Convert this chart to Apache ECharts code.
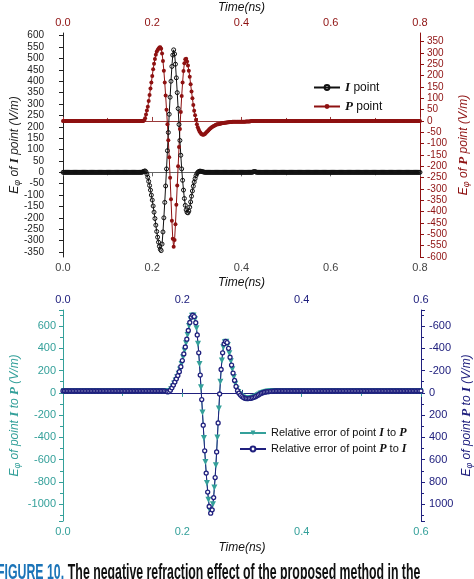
<!DOCTYPE html>
<html>
<head>
<meta charset="utf-8">
<script src="https://cdn.jsdelivr.net/npm/echarts@6/dist/echarts.min.js"></script>
<style>
html,body{margin:0;padding:0;background:#fff;}
#main{width:474px;height:579px;}
</style>
</head>
<body>
<div id="main"></div>
<script>
// sampling steps (ns)
var dtTop = 0.002;
var dtBottom = 0.0025;

var topTimeRange = [0, 0.8];
var bottomTimeRange = [0, 0.6];

// E-phi at I point (V/m), one row = 0.04 ns
var iPoint = [
  0,0,0,0,0,0,0,0,0,0,0,0,0,0,0,0,0,0,0,0,
  0,0,0,0,0,0,0,0,0,0,0,0,0,0,0,0,0,0,0,0,
  0,0,0,0,0,0,0,0,0,0,0,0,0,0,0,0,0,0,0,0,
  0,0,0,0,0,0,0,0,0,0,0,0,0,0,0,0,0,0,0,0,
  0,0,0,0,0,0,0,0,0,1,3,5,6,2,-8,-22,-40,-58,-78,-100,
  -122,-148,-175,-203,-232,-260,-285,-307,-325,-338,-344,-315,-262,-200,-132,-60,15,95,175,255,
  330,400,465,515,538,520,475,415,350,280,210,140,75,15,-35,-78,-115,-145,-165,-176,
  -178,-170,-153,-130,-105,-82,-61,-43,-28,-15,-6,0,3,5,5,4,3,2,1,0,
  0,0,0,0,0,0,0,0,0,0,0,0,0,0,0,0,0,0,0,0,
  0,0,0,0,0,0,0,0,0,0,0,0,0,0,0,0,0,0,0,0,
  0,0,0,0,0,0,0,0,0,0,0,0,0,2,3,3,2,0,0,0,
  0,0,0,0,0,0,0,0,0,0,0,0,0,0,0,0,0,0,0,0,
  0,0,0,0,0,0,0,0,0,0,0,0,0,0,0,0,0,0,0,0,
  0,0,0,0,0,0,0,0,0,0,0,0,0,0,0,0,0,0,0,0,
  0,0,0,0,0,0,0,0,0,0,0,0,0,0,0,0,0,0,0,0,
  0,0,0,0,0,0,0,0,0,0,0,0,0,0,0,0,0,0,0,0,
  0,0,0,0,0,0,0,0,0,0,0,0,0,0,0,0,0,0,0,0,
  0,0,0,0,0,0,0,0,0,0,0,0,0,0,0,0,0,0,0,0,
  0,0,0,0,0,0,0,0,0,0,0,0,0,0,0,0,0,0,0,0,
  0,0,0,0,0,0,0,0,0,0,0,0,0,0,0,0,0,0,0,0,
  0
];

// E-phi at P point (V/m, right axis), one row = 0.04 ns
var pPoint = [
  0,0,0,0,0,0,0,0,0,0,0,0,0,0,0,0,0,0,0,0,
  0,0,0,0,0,0,0,0,0,0,0,0,0,0,0,0,0,0,0,0,
  0,0,0,0,0,0,0,0,0,0,0,0,0,0,0,0,0,0,0,0,
  0,0,0,0,0,0,0,0,0,0,0,0,0,0,0,0,0,0,0,0,
  0,0,0,0,0,0,0,0,0,0,0,3,12,28,46,63,88,115,143,170,
  198,228,252,273,292,305,313,319,324,325,318,298,265,222,170,112,50,-15,-85,-160,
  -250,-345,-440,-520,-555,-525,-455,-370,-285,-200,-115,-35,40,110,170,220,255,272,274,262,
  245,222,195,162,130,100,70,45,25,5,-15,-28,-38,-46,-52,-57,-60,-61,-60,-57,
  -53,-49,-45,-41,-37,-33,-30,-27,-24,-22,-20,-18,-16,-15,-14,-13,-12,-11,-10,-9,
  -9,-8,-8,-7,-7,-6,-6,-5,-5,-5,-4,-4,-4,-4,-3,-3,-3,-3,-3,-3,
  -3,-3,-3,-3,-3,-2,-2,-2,-2,-2,-1,0,0,0,0,0,0,0,0,0,
  0,0,0,0,0,0,0,0,0,0,0,0,0,0,0,0,0,0,0,0,
  0,0,0,0,0,0,0,0,0,0,0,0,0,0,0,0,0,0,0,0,
  0,0,0,0,0,0,0,0,0,0,0,0,0,0,0,0,0,0,0,0,
  0,0,0,0,0,0,0,0,0,0,0,0,0,0,0,0,0,0,0,0,
  0,0,0,0,0,0,0,0,0,0,0,0,0,0,0,0,0,0,0,0,
  0,0,0,0,0,0,0,0,0,0,0,0,0,0,0,0,0,0,0,0,
  0,0,0,0,0,0,0,0,0,0,0,0,0,0,0,0,0,0,0,0,
  0,0,0,0,0,0,0,0,0,0,0,0,0,0,0,0,0,0,0,0,
  0,0,0,0,0,0,0,0,0,0,0,0,0,0,0,0,0,0,0,0,
  0
];

// relative error I -> P (teal), samples start at dtBottom/2, one row = 0.04 ns
var errIP = [
  18,18,18,18,18,18,18,18,18,18,18,18,18,18,18,18,
  18,18,18,18,18,18,18,18,18,18,18,18,18,18,18,18,
  18,18,18,18,18,18,18,18,18,18,18,18,18,18,18,18,
  18,18,18,18,18,18,18,18,18,18,18,18,18,18,18,18,
  18,18,18,18,17,12,10,16,32,57,85,112,140,172,210,260,
  320,380,445,520,600,660,692,695,660,580,440,260,50,-175,-405,-620,
  -810,-960,-1055,-1070,-1000,-850,-650,-400,-140,100,290,410,455,460,430,355,
  285,212,142,82,36,8,-13,-28,-39,-46,-50,-51,-50,-49,-46,-42,
  -37,-30,-22,-14,-6,0,4,8,10,12,13,14,15,16,17,17,
  18,18,18,18,18,18,18,18,18,18,18,18,18,18,18,18,
  18,18,18,18,18,18,18,18,18,18,18,18,18,18,18,18,
  18,18,18,18,18,18,18,18,18,18,18,18,18,18,18,18,
  18,18,18,18,18,18,18,18,18,18,18,18,18,18,18,18,
  18,18,18,18,18,18,18,18,18,18,18,18,18,18,18,18,
  18,18,18,18,18,18,18,18,18,18,18,18,18,18,18,18
];

// relative error P -> I (navy), samples start at 0, one row = 0.04 ns
var errPI = [
  18,18,18,18,18,18,18,18,18,18,18,18,18,18,18,18,
  18,18,18,18,18,18,18,18,18,18,18,18,18,18,18,18,
  18,18,18,18,18,18,18,18,18,18,18,18,18,18,18,18,
  18,18,18,18,18,18,18,18,18,18,18,18,18,18,18,18,
  18,18,18,18,18,14,10,12,24,45,70,98,126,155,190,235,
  290,350,412,482,560,632,680,697,685,630,520,360,160,-60,-290,-520,
  -720,-890,-1020,-1080,-1050,-940,-760,-530,-270,-10,210,360,440,462,452,400,
  320,250,178,112,58,20,-3,-20,-33,-42,-48,-51,-51,-50,-48,-44,
  -40,-34,-26,-18,-10,-3,2,6,9,11,12,14,15,16,17,17,
  18,18,18,18,18,18,18,18,18,18,18,18,18,18,18,18,
  18,18,18,18,18,18,18,18,18,18,18,18,18,18,18,18,
  18,18,18,18,18,18,18,18,18,18,18,18,18,18,18,18,
  18,18,18,18,18,18,18,18,18,18,18,18,18,18,18,18,
  18,18,18,18,18,18,18,18,18,18,18,18,18,18,18,18,
  18,18,18,18,18,18,18,18,18,18,18,18,18,18,18,18,
  18
];

var RED = '#8e1111', RED_AX = '#9a3a3a', TEAL = '#34a09a', NAVY = '#20207e';

function toPairs(vals, t0, dt) {
  return vals.map(function (v, i) { return [+(t0 + i * dt).toFixed(5), v]; });
}

function nameRich(color) {
  return {
    i: {fontStyle: 'italic', fontSize: 12, color: color, fontFamily: 'Liberation Sans'},
    s: {fontStyle: 'italic', fontSize: 9, color: color, fontFamily: 'Liberation Sans', padding: [5, 0, 0, 0]},
    b: {fontStyle: 'italic', fontWeight: 'bold', fontSize: 13, color: color, fontFamily: 'Liberation Serif'}
  };
}
var legendRich = {
  b: {fontStyle: 'italic', fontWeight: 'bold', fontSize: 13, fontFamily: 'Liberation Serif', color: '#111'}
};
var legendText = {
  'I point': '{b|I} point',
  'P point': '{b|P} point',
  'Relative error of point I to P': 'Relative error of point {b|I} to {b|P}',
  'Relative error of point P to I': 'Relative error of point {b|P} to {b|I}'
};
function fmt1(v) { return v.toFixed(1); }
function plain(v) { return String(v); }

function xAx(grid, pos, range, color, labelColor, name, nameGap) {
  return {
    type: 'value', gridIndex: grid, position: pos, min: range[0], max: range[1], interval: 0.2,
    axisLine: {show: true, lineStyle: {color: color, width: 1}},
    axisTick: {show: true, length: 4, lineStyle: {color: color}},
    minorTick: {show: true, splitNumber: 2, length: 3, lineStyle: {color: color}},
    axisLabel: {formatter: fmt1, fontSize: 11, color: labelColor, margin: 5, fontFamily: 'Liberation Sans'},
    splitLine: {show: false},
    name: name, nameLocation: 'middle', nameGap: nameGap, nameMoveOverlap: false,
    nameTextStyle: {fontStyle: 'italic', fontSize: 12, color: '#111', fontFamily: 'Liberation Sans'}
  };
}

function yAx(grid, pos, min, max, split, color, fontSize, margin, name, nameGap, minor, inverse, showMin) {
  return {
    type: 'value', gridIndex: grid, position: pos, min: min, max: max, splitNumber: split, inverse: !!inverse,
    axisLine: {show: true, onZero: false, lineStyle: {color: color, width: 1}},
    axisTick: {show: true, length: 4, lineStyle: {color: color}},
    minorTick: {show: !!minor, splitNumber: 2, length: 3, lineStyle: {color: color}},
    axisLabel: {fontSize: fontSize, color: color, margin: margin, showMinLabel: !!showMin, showMaxLabel: false,
      formatter: plain, fontFamily: 'Liberation Sans'},
    splitLine: {show: false},
    name: name, nameLocation: 'middle', nameRotate: 90, nameGap: nameGap, nameMoveOverlap: false,
    nameTextStyle: {rich: nameRich(color)}
  };
}

var chart = echarts.init(document.getElementById('main'));
chart.setOption({
  animation: false,
  backgroundColor: '#fff',
  grid: [
    {left: 63, top: 33, width: 357, height: 224, containLabel: false, outerBoundsMode: 'none'},
    {left: 63, top: 310, width: 358, height: 211, containLabel: false, outerBoundsMode: 'none'}
  ],
  xAxis: [
    xAx(0, 'bottom', topTimeRange, '#666', '#444', 'Time(ns)', 20),
    xAx(0, 'top', topTimeRange, RED_AX, RED, 'Time(ns)', 19),
    xAx(1, 'bottom', bottomTimeRange, TEAL, TEAL, 'Time(ns)', 21),
    xAx(1, 'top', bottomTimeRange, NAVY, NAVY, '', 20)
  ],
  yAxis: [
    yAx(0, 'left', -372, 612, 20, '#222', 10, 19,
      '{i|E}{s|φ}{i| of }{b|I}{i| point (V/m)}', 41, false),
    yAx(0, 'right', -600, 388, 20, RED, 10, 7,
      '{i|E}{s|φ}{i| of }{b|P}{i| point (V/m)}', 37, false, false, true),
    yAx(1, 'left', -1150, 744, 10, TEAL, 11, 7,
      '{i|E}{s|φ}{i| of point }{b|I}{i| to }{b|P}{i| (V/m)}', 41, true),
    yAx(1, 'right', -744, 1150, 10, NAVY, 11, 8,
      '{i|E}{s|φ}{i| of point }{b|P}{i| to }{b|I}{i| (V/m)}', 39, true, true)
  ],
  legend: [
    {data: ['I point', 'P point'], orient: 'vertical', left: 308, top: 76, itemWidth: 26, itemHeight: 6,
      itemGap: 6, formatter: function (n) { return legendText[n]; },
      textStyle: {fontSize: 12, color: '#111', fontFamily: 'Liberation Sans', rich: legendRich}},
    {data: ['Relative error of point I to P', 'Relative error of point P to I'], orient: 'vertical',
      left: 234, top: 422, itemWidth: 26, itemHeight: 6, itemGap: 4,
      formatter: function (n) { return legendText[n]; },
      textStyle: {fontSize: 11, color: '#111', fontFamily: 'Liberation Sans',
        rich: {b: {fontStyle: 'italic', fontWeight: 'bold', fontSize: 12, fontFamily: 'Liberation Serif', color: '#111'}}}}
  ],
  graphic: [{
    type: 'text', x: -3, y: 562, scaleX: 0.56,
    style: {
      text: '{a|FIGURE 10.}  {b|The negative refraction effect of the proposed method in the}',
      verticalAlign: 'top',
      rich: {
        a: {fill: '#1b74b8', color: '#1b74b8', fontWeight: 'bold', fontSize: 22, fontFamily: 'Liberation Sans'},
        b: {fill: '#111', color: '#111', fontWeight: 'bold', fontSize: 22, fontFamily: 'Liberation Sans'}
      }
    }
  }],
  series: [
    {name: 'P point', type: 'line', xAxisIndex: 0, yAxisIndex: 1, data: toPairs(pPoint, 0, dtTop),
      symbol: 'circle', symbolSize: 4, showAllSymbol: true,
      itemStyle: {color: RED}, lineStyle: {color: RED, width: 1}},
    {name: 'I point', type: 'line', xAxisIndex: 0, yAxisIndex: 0, data: toPairs(iPoint, 0, dtTop),
      symbol: 'circle', symbolSize: 4, showAllSymbol: true,
      itemStyle: {color: 'rgba(255,255,255,0)', borderColor: '#111', borderWidth: 1},
      lineStyle: {color: '#111', width: 1}},
    {name: 'Relative error of point I to P', type: 'line', xAxisIndex: 2, yAxisIndex: 2,
      data: toPairs(errIP, dtBottom / 2, dtBottom), symbol: 'triangle', symbolRotate: 180, symbolSize: 6,
      showAllSymbol: true, itemStyle: {color: TEAL}, lineStyle: {color: TEAL, width: 1}},
    {name: 'Relative error of point P to I', type: 'line', xAxisIndex: 2, yAxisIndex: 2,
      data: toPairs(errPI, 0, dtBottom), symbol: 'circle', symbolSize: 4, showAllSymbol: true,
      itemStyle: {color: '#fff', borderColor: NAVY, borderWidth: 1.3}, lineStyle: {color: NAVY, width: 1}}
  ]
});
</script>
</body>
</html>
